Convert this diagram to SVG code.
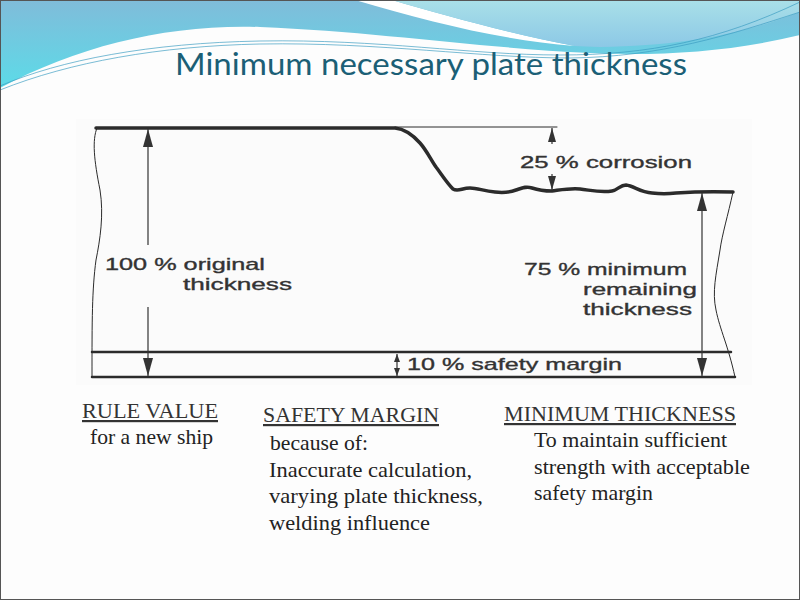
<svg xmlns="http://www.w3.org/2000/svg" width="800" height="600" viewBox="0 0 800 600">
<defs>
  <linearGradient id="gBase" x1="0" y1="0" x2="0" y2="1">
    <stop offset="0" stop-color="#80bcda"/>
    <stop offset="1" stop-color="#5cdbe8"/>
  </linearGradient>
  <linearGradient id="gLight" x1="0" y1="0" x2="0" y2="1">
    <stop offset="0" stop-color="#a9e0e8"/>
    <stop offset="1" stop-color="#8cc8e6"/>
  </linearGradient>
  <marker id="ah" viewBox="0 0 18 10" refX="18" refY="5" markerWidth="18" markerHeight="10" markerUnits="userSpaceOnUse" orient="auto-start-reverse">
    <path d="M0,0 L18,5 L0,10 Z" fill="#333"/>
  </marker>
  <marker id="ahm" viewBox="0 0 14 8" refX="14" refY="4" markerWidth="14" markerHeight="8" markerUnits="userSpaceOnUse" orient="auto-start-reverse">
    <path d="M0,0 L14,4 L0,8 Z" fill="#333"/>
  </marker>
  <marker id="ahs" viewBox="0 0 8 6" refX="8" refY="3" markerWidth="8" markerHeight="6" markerUnits="userSpaceOnUse" orient="auto-start-reverse">
    <path d="M0,0 L8,3 L0,6 Z" fill="#333"/>
  </marker>
</defs>
<style>
  .plate { fill: none; stroke: #2b2b2b; stroke-linejoin: round; stroke-linecap: round; }
  .thick { stroke-width: 3.5; }
  .mid { stroke-width: 2.5; }
  .thin { stroke-width: 1; }
  .dim { stroke: #333; stroke-width: 1.2; fill: none; }
  .lbl { font-family: "Liberation Sans", Arial, sans-serif; font-size: 17px; fill: #333; stroke: #333; stroke-width: 0.35; }
  .note { font-family: "Liberation Serif", "Times New Roman", serif; font-size: 22px; fill: #222; }
  .head { text-decoration: underline; fill: #333; }
  .wave { fill: none; stroke: #3a9cc0; stroke-width: 0.8; opacity: 0.85; }
</style>

<rect x="0" y="0" width="800" height="600" fill="#fdfdfd"/>

<g id="header">
  <path d="M0,0 H800 V35 C730,52 660,56 590,53 C480,48 380,32 260,27 C170,24 80,45 0,88 Z" fill="url(#gBase)"/>
  <path d="M355,0 L392,0 C440,14 510,34 575,46 C500,40 430,22 355,0 Z" fill="#ffffff"/>
  <path d="M392,0 H800 V12 C740,35 680,46 600,47 C590,47 582,46 575,46 C510,34 440,14 392,0 Z" fill="url(#gLight)"/>
  <path class="wave" d="M0,86 C60,60 150,43 260,41 C380,39 470,55 560,55 C650,55 720,40 800,2"/>
  <path class="wave" d="M0,90 C70,62 160,46 260,44 C380,42 480,58 570,58 C660,57 730,35 800,12"/>
  <text x="175" y="75" font-family="Lato, 'Open Sans', sans-serif" font-size="31" fill="#1b5f76" textLength="512" lengthAdjust="spacingAndGlyphs">Minimum necessary plate thickness</text>
</g>

<g id="plate">
  <rect x="76" y="119" width="676" height="266" fill="#fbfbfb"/>
  <path class="plate thick" d="M96,128 L395,128 C405,129 412,134 420,143 C427,151 431,160 436,167 C442,175 447,183 453,189 C458,192 462,188 470,188 C478,188 483,191 495,192 C503,193 508,193 516,190 C522,188 526,186 532,188 C538,190 544,191 552,191 C560,190 570,188 580,189 C590,190 600,193 612,191 C618,190 620,185 626,185 C634,186 640,192 652,193 C660,194 668,194 676,193 C690,192 705,191 733,192"/>
  <path class="plate thin" d="M395,127 L557,127"/>
  <path class="plate mid" d="M92,352 L731,352"/>
  <path class="plate mid" d="M92,377 L735,377"/>
  <path class="plate thin" d="M97,128 C92,140 94,160 100,190 C104,215 100,240 96,260 C92,290 92,320 92,377"/>
  <path class="plate thin" d="M733,192 C728,215 722,235 720,250 C716,275 712,292 716,310 C720,330 728,345 735,377"/>
</g>

<g id="connectors">
  <line class="dim" x1="148" y1="129" x2="148" y2="245" marker-start="url(#ah)"/>
  <line class="dim" x1="148" y1="307" x2="148" y2="376" marker-end="url(#ah)"/>
  <line class="dim" x1="552" y1="128" x2="552" y2="144" marker-start="url(#ahm)"/>
  <line class="dim" x1="552" y1="174" x2="552" y2="190" marker-end="url(#ahm)"/>
  <line class="dim" x1="702" y1="193" x2="702" y2="376" marker-start="url(#ah)" marker-end="url(#ah)"/>
  <line class="dim" x1="397" y1="354" x2="397" y2="376" marker-start="url(#ahs)" marker-end="url(#ahs)"/>
</g>

<g id="labels">
  <text class="lbl" x="105" y="270" textLength="160" lengthAdjust="spacingAndGlyphs">100 % original</text>
  <text class="lbl" x="183" y="290" textLength="109" lengthAdjust="spacingAndGlyphs">thickness</text>
  <text class="lbl" x="520" y="168" textLength="172" lengthAdjust="spacingAndGlyphs">25 % corrosion</text>
  <text class="lbl" x="524" y="275" textLength="163" lengthAdjust="spacingAndGlyphs">75 % minimum</text>
  <text class="lbl" x="583" y="295" textLength="114" lengthAdjust="spacingAndGlyphs">remaining</text>
  <text class="lbl" x="583" y="315" textLength="109" lengthAdjust="spacingAndGlyphs">thickness</text>
  <text class="lbl" x="407" y="370" textLength="215" lengthAdjust="spacingAndGlyphs">10 % safety margin</text>
</g>

<g id="rule-value">
  <text class="note head" x="82" y="418" textLength="136" lengthAdjust="spacingAndGlyphs">RULE VALUE</text>
  <text class="note" x="90" y="444" textLength="123" lengthAdjust="spacingAndGlyphs">for a new ship</text>
</g>

<g id="safety-margin">
  <text class="note head" x="263" y="422" textLength="176" lengthAdjust="spacingAndGlyphs">SAFETY MARGIN</text>
  <text class="note" x="270" y="450" textLength="98" lengthAdjust="spacingAndGlyphs">because of:</text>
  <text class="note" x="269" y="477" textLength="203" lengthAdjust="spacingAndGlyphs">Inaccurate calculation,</text>
  <text class="note" x="269" y="503" textLength="214" lengthAdjust="spacingAndGlyphs">varying plate thickness,</text>
  <text class="note" x="269" y="530" textLength="161" lengthAdjust="spacingAndGlyphs">welding influence</text>
</g>

<g id="minimum-thickness">
  <text class="note head" x="504" y="421" textLength="232" lengthAdjust="spacingAndGlyphs">MINIMUM THICKNESS</text>
  <text class="note" x="534" y="447" textLength="193" lengthAdjust="spacingAndGlyphs">To maintain sufficient</text>
  <text class="note" x="534" y="474" textLength="216" lengthAdjust="spacingAndGlyphs">strength with acceptable</text>
  <text class="note" x="534" y="500" textLength="119" lengthAdjust="spacingAndGlyphs">safety margin</text>
</g>

<rect x="0.5" y="0.5" width="799" height="599" fill="none" stroke="#555" stroke-width="1"/>
</svg>
